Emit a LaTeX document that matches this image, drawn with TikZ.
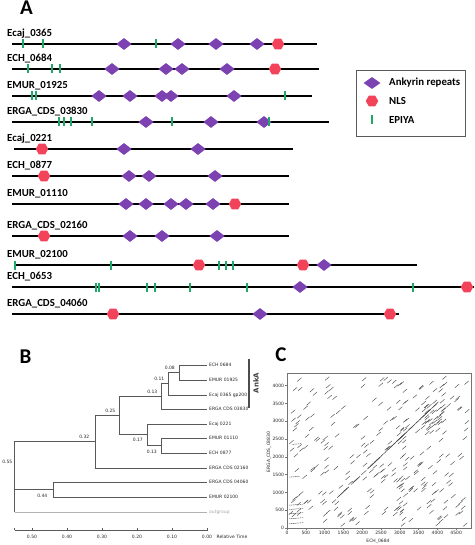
\documentclass[tikz,border=0pt]{standalone}
\usepackage{fontspec}
\setmainfont{Carlito}
\newfontfamily\plotfont{DejaVu Sans}
\usetikzlibrary{shapes.geometric,calc}
\definecolor{ankcol}{HTML}{7D42B2}
\definecolor{nlscol}{HTML}{F2435A}
\definecolor{epicol}{HTML}{1FA968}

\begin{document}
\begin{tikzpicture}[x=1pt,y=-1pt]
  \tikzstyle{gene} = [line width=1.6pt, black]
  \tikzstyle{ankyrin} = [diamond, fill=ankcol, inner sep=0pt, minimum width=15.5pt, minimum height=12pt]
  \tikzstyle{nls} = [regular polygon, regular polygon sides=6, fill=nlscol, inner sep=0pt, minimum size=12.5pt]
  \tikzstyle{epiya} = [rectangle, fill=epicol, inner sep=0pt, minimum width=2.2pt, minimum height=9pt]
  \tikzstyle{genename} = [anchor=base west, inner sep=0pt, font=\bfseries\fontsize{10.8}{11}\selectfont]
  \tikzstyle{legtext} = [anchor=west, inner sep=0pt, font=\bfseries\fontsize{10.8}{11}\selectfont]
  \tikzstyle{panel} = [inner sep=0pt, font=\bfseries\fontsize{21}{21}\selectfont]
  \tikzstyle{branch} = [draw=black!65, line width=0.7pt]
  \tikzstyle{outbranch} = [draw=black!30, line width=0.7pt]
  \tikzstyle{tlabel} = [inner sep=0.5pt, text=black!85, font=\plotfont\fontsize{4.5}{5}\selectfont]
  \tikzstyle{plotframe} = [draw=black!55, line width=0.6pt]
  \tikzstyle{dot} = [black!70, line width=0.45pt]

  \useasboundingbox (0,0) rectangle (474,545);

  % panel A: domain maps
  \node[panel] (pA) at (26.5,8) {A};
  \foreach \r/\y/\b/\e/\name in {
      1/44/12/317/Ecaj\_0365,
      2/69/12/319/ECH\_0684,
      3/96/12/312/EMUR\_01925,
      4/122/12/329/ERGA\_CDS\_03830,
      5/149/14/293/Ecaj\_0221,
      6/176/12/289/ECH\_0877,
      7/204/12/289/EMUR\_01110,
      8/236/12/289/ERGA\_CDS\_02160,
      9/265/14/417/EMUR\_02100,
      10/287/12/474/ECH\_0653,
      11/314/12/399/ERGA\_CDS\_04060}
  {
    \coordinate (s\r) at (\b,\y);
    \coordinate (e\r) at (\e,\y);
    \draw[gene] (s\r) -- (e\r);
    \node[genename] (name\r) at (7,\y-7.5) {\name};
  }

  % row 1
  \foreach \x in {124,178,216,257} \node[ankyrin] (ank1-\x) at (\x,44) {};
  \foreach \x in {278} \node[nls] (nls1-\x) at (\x,44) {};
  \foreach \x in {23,43,156} \node[epiya] (epi1-\x) at (\x,44) {};
  % row 2
  \foreach \x in {112,166,182,227} \node[ankyrin] (ank2-\x) at (\x,69) {};
  \foreach \x in {275} \node[nls] (nls2-\x) at (\x,69) {};
  \foreach \x in {28,52,60} \node[epiya] (epi2-\x) at (\x,69) {};
  % row 3
  \foreach \x in {99,130,162,171,234} \node[ankyrin] (ank3-\x) at (\x,96) {};
  \foreach \x in {32,36,285} \node[epiya] (epi3-\x) at (\x,96) {};
  % row 4
  \foreach \x in {146,211,264} \node[ankyrin] (ank4-\x) at (\x,122) {};
  \foreach \x in {59,64,71,92,172,269} \node[epiya] (epi4-\x) at (\x,122) {};
  % row 5
  \foreach \x in {124,198} \node[ankyrin] (ank5-\x) at (\x,149) {};
  \foreach \x in {42} \node[nls] (nls5-\x) at (\x,149) {};
  % row 6
  \foreach \x in {129,149,215} \node[ankyrin] (ank6-\x) at (\x,176) {};
  \foreach \x in {44} \node[nls] (nls6-\x) at (\x,176) {};
  % row 7
  \foreach \x in {126,146,171,186,213} \node[ankyrin] (ank7-\x) at (\x,204) {};
  \foreach \x in {235} \node[nls] (nls7-\x) at (\x,204) {};
  % row 8
  \foreach \x in {130,162,217} \node[ankyrin] (ank8-\x) at (\x,236) {};
  \foreach \x in {44} \node[nls] (nls8-\x) at (\x,236) {};
  % row 9
  \foreach \x in {324} \node[ankyrin] (ank9-\x) at (\x,265) {};
  \foreach \x in {199,303} \node[nls] (nls9-\x) at (\x,265) {};
  \foreach \x in {15,111,219,226,233} \node[epiya] (epi9-\x) at (\x,265) {};
  % row 10
  \foreach \x in {300} \node[ankyrin] (ank10-\x) at (\x,287) {};
  \foreach \x in {467} \node[nls] (nls10-\x) at (\x,287) {};
  \foreach \x in {96,99,147,155,190,247,413} \node[epiya] (epi10-\x) at (\x,287) {};
  % row 11
  \foreach \x in {260} \node[ankyrin] (ank11-\x) at (\x,314) {};
  \foreach \x in {113,390} \node[nls] (nls11-\x) at (\x,314) {};

  % legend
  \node[draw=black!65, line width=0.8pt, minimum width=109pt, minimum height=66pt, inner sep=0pt] (legend) at (410.5,103) {};
  \node[ankyrin, minimum width=17pt] (legank) at (372,83) {};
  \node[nls] (legnls) at (372,101) {};
  \node[epiya] (legepi) at (372,120) {};
  \node[legtext] (legank-t) at (389,83) {Ankyrin repeats};
  \node[legtext] (legnls-t) at (389,101) {NLS};
  \node[legtext] (legepi-t) at (389,120) {EPIYA};

  % panel B: tree
  \node[panel] (pB) at (25.5,357) {B};
  \foreach \n/\y/\name in {
      l1/365/ECH 0684, l2/380/EMUR 01925, l3/395/Ecaj 0365 gp200,
      l4/409/ERGA CDS 03830, l5/424/Ecaj 0221, l6/438/EMUR 01110,
      l7/453/ECH 0877, l8/468/ERGA CDS 02160, l9/482/ERGA CDS 04060,
      l10/497/EMUR 02100}
  {
    \coordinate (\n) at (207,\y);
    \node[tlabel, anchor=west, xshift=1.5pt] (\n-t) at (\n) {\name};
  }
  \coordinate (l11) at (207,512);
  \node[tlabel, anchor=west, xshift=1.5pt, text=black!35] (l11-t) at (l11) {outgroup};

  \coordinate (n008) at (179,372.5);
  \coordinate (n011) at (168.5,383.8);
  \coordinate (n013a) at (161.5,396.4);
  \coordinate (n013b) at (161.5,445.5);
  \coordinate (n017) at (147.5,434.8);
  \coordinate (n025) at (119.5,415.6);
  \coordinate (n032) at (95,441.8);
  \coordinate (n044) at (53,489.5);
  \coordinate (root) at (14.5,476.9);

  \draw[branch] (n008) |- (l1);  \draw[branch] (n008) |- (l2);
  \draw[branch] (n011) |- (n008); \draw[branch] (n011) |- (l3);
  \draw[branch] (n013a) |- (n011); \draw[branch] (n013a) |- (l4);
  \draw[branch] (n013b) |- (l6); \draw[branch] (n013b) |- (l7);
  \draw[branch] (n017) |- (l5); \draw[branch] (n017) |- (n013b);
  \draw[branch] (n025) |- (n013a); \draw[branch] (n025) |- (n017);
  \draw[branch] (n032) |- (n025); \draw[branch] (n032) |- (l8);
  \draw[branch] (n044) |- (l9); \draw[branch] (n044) |- (l10);
  \draw[branch] (root) |- (n032); \draw[branch] (root) |- (n044);
  \draw[branch] (root) -- (root |- l11);
  \draw[outbranch] (root |- l11) -- (l11);

  \node[tlabel, anchor=south east] (t008) at ($(n008)+(-3.5,-2.3)$) {0.08};
  \node[tlabel, anchor=south east] (t011) at ($(n011)+(-3.5,-2.3)$) {0.11};
  \node[tlabel, anchor=south east] (t013a) at ($(n013a)+(-3.5,-2.3)$) {0.13};
  \node[tlabel, anchor=south east] (t025) at ($(n025)+(-3.5,-2.3)$) {0.25};
  \node[tlabel, anchor=south east] (t032) at ($(n032)+(-5,-2.3)$) {0.32};
  \node[tlabel, anchor=north east] (t017) at ($(n017)+(-4,3)$) {0.17};
  \node[tlabel, anchor=north east] (t013b) at ($(n013b)+(-4,4)$) {0.13};
  \node[tlabel, anchor=north east] (t044) at ($(n044)+(-5,3.5)$) {0.44};
  \node[tlabel, anchor=east] (t055) at ($(root)+(-1.5,-15)$) {0.55};

  % AnkA bar
  \coordinate (anka1) at (249,359);
  \coordinate (anka2) at (249,408);
  \draw[line width=1.4pt, black!70] (anka1) -- (anka2);
  \node[rotate=90, inner sep=0pt, text=black!75, font=\plotfont\bfseries\fontsize{7}{7}\selectfont] (anka) at (256,383) {AnkA};

  % time axis
  \coordinate (ax0) at (14.5,530);
  \coordinate (ax1) at (207,530);
  \draw[branch] (ax0) -- (ax1);
  \draw[branch] (ax0) -- ++(0,-2);
  \foreach \i/\t/\lab in {1/0.5/0.50, 2/0.4/0.40, 3/0.3/0.30, 4/0.2/0.20, 5/0.1/0.10, 6/0/0.00}
  {
    \draw[branch] (207-\t*350,528) -- (207-\t*350,531);
    \node[tlabel] (tick\i) at (207-\t*350,537) {\lab};
  }
  \node[tlabel, anchor=west] (reltime) at (216,537) {Relative Time};

  % panel C: dot plot
  \node[panel] (pC) at (281,355) {C};
  \node[tlabel] (xtitle) at (378,541) {ECH\_0684};
  \node[tlabel, rotate=90] (ytitle) at (269,452) {ERGA\_CDS\_03830};
  \begin{scope}[shift={(287,528)}, x=0.0376pt, y=0.0356pt]
    \pgfmathsetseed{4}
    \foreach \i in {1,...,260}
    {
      \pgfmathsetmacro\px{random(20,4740)}
      \pgfmathsetmacro\py{random(20,4220)}
      \draw[dot] (\px,\py) -- ++(110,100);
    }
    \foreach \i in {1,...,45}
    {
      \pgfmathsetmacro\px{random(1300,3850)}
      \draw[dot] (\px,\px-480) -- ++(140,130);
    }
    \foreach \i in {1,...,30}
    {
      \pgfmathsetmacro\px{random(3550,4150)}
      \pgfmathsetmacro\py{random(2700,3550)}
      \draw[dot] (\px,\py) -- ++(120,110);
    }
    \foreach \i in {1,...,20}
    {
      \pgfmathsetmacro\px{random(2950,3150)}
      \pgfmathsetmacro\py{random(300,3600)}
      \draw[dot] (\px,\py) -- ++(100,90);
    }
    \foreach \yy in {120,260,400,520,640}
      \draw[dot, dash pattern=on 1.2pt off 0.6pt] (60,\yy) -- (430,\yy+30);
    \draw[dot, dash pattern=on 1.2pt off 0.6pt] (60,1430) -- (350,1450);
    \draw[dot, dash pattern=on 1.2pt off 0.6pt] (150,2350) -- (380,2370);

    \draw[plotframe] (0,0) rectangle (4894,4354);
    \foreach \v in {0,500,...,4000}
    {
      \draw[plotframe] (0,\v) -- (-60,\v);
      \node[tlabel, anchor=east] (yt\v) at (-60,\v) {\v};
    }
    \foreach \v in {0,500,...,4500}
    {
      \draw[plotframe] (\v,0) -- (\v,-60);
      \node[tlabel, anchor=north] (xt\v) at (\v,-60) {\v};
    }
  \end{scope}
\end{tikzpicture}
\end{document}
